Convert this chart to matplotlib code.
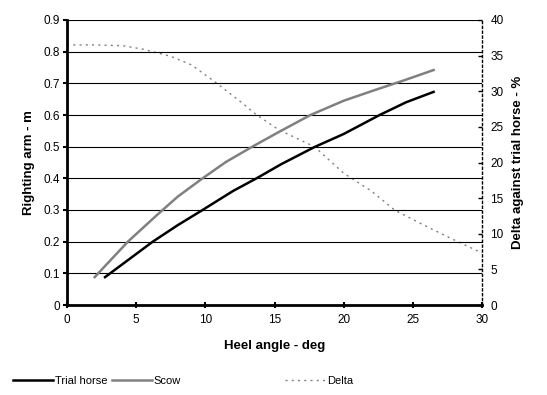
import numpy as np
import matplotlib
matplotlib.use("Agg")
import matplotlib.pyplot as plt

plt.rcParams['font.family'] = ['Liberation Sans', 'DejaVu Sans']

# heel angle (deg) vs righting arm (m)
trial_x = [2.75, 6.2, 8.0, 9.8, 12.0, 13.7, 15.5, 17.9, 20.0, 22.6, 24.5, 26.5]
trial_y = [0.088, 0.2, 0.252, 0.3, 0.36, 0.4, 0.445, 0.499, 0.54, 0.6, 0.64, 0.673]

scow_x = [2.0, 4.4, 6.5, 8.0, 9.8, 11.5, 13.4, 15.3, 17.6, 20.0, 22.0, 24.4, 26.5]
scow_y = [0.088, 0.2, 0.284, 0.342, 0.4, 0.452, 0.5, 0.546, 0.6, 0.645, 0.675, 0.71, 0.742]

# delta against trial horse (%)
delta_x = [0, 2, 4, 5.5, 7.5, 9, 10.7, 12.5, 13.7, 15.3, 17.9, 20, 22, 23.7, 25.5, 27.7, 30]
delta_y = [36.5, 36.5, 36.4, 35.9, 34.9, 33.7, 31.3, 28.6, 26.7, 24.6, 22.2, 18.5, 16.0, 13.3, 11.5, 9.4, 7.3]

fig = plt.figure(figsize=(5.47, 3.95), dpi=100)
ax = fig.add_axes([67/547, 90/395, 415/547, 285/395])
ax2 = ax.twinx()

# gridlines
ax.set_axisbelow(True)
ax.yaxis.grid(True, color='black', linewidth=0.8)

ax2.plot(delta_x, delta_y, color='#808080', linewidth=1.0, linestyle=(0, (1.5, 3)), label='Delta')
ax.set_zorder(ax2.get_zorder() + 1)
ax.patch.set_visible(False)
l1, = ax.plot(trial_x, trial_y, color='black', linewidth=1.8, label='Trial horse')
l2, = ax.plot(scow_x, scow_y, color='#808080', linewidth=1.8, label='Scow')
l3 = ax2.get_lines()[0]

ax.set_xlim(0, 30)
ax.set_ylim(0, 0.9)
ax2.set_ylim(0, 40)
ax.set_xticks(np.arange(0, 31, 5))
ax.set_yticks(np.arange(0, 0.91, 0.1))
ax.set_yticklabels(['0'] + ['%.1f' % v for v in np.arange(0.1, 0.91, 0.1)])
ax2.set_yticks(np.arange(0, 41, 5))

for a in (ax, ax2):
    a.spines['top'].set_visible(False)
ax.spines['right'].set_visible(False)
ax.spines['left'].set_linewidth(2)
ax.spines['bottom'].set_linewidth(2)
ax2.spines['left'].set_visible(False)
ax2.spines['bottom'].set_visible(False)
ax2.spines['right'].set_linestyle((0, (1.5, 2)))
ax2.spines['right'].set_linewidth(1.0)

ax.tick_params(axis='x', direction='inout', length=5, width=1.5, labelsize=8.5, pad=4)
ax.tick_params(axis='y', direction='out', length=3, width=1.5, labelsize=8.5, pad=2)
ax2.tick_params(axis='y', direction='in', length=3, width=1, labelsize=8.5, pad=6)

ax.set_xlabel('Heel angle - deg', fontsize=9.5, fontweight='bold', labelpad=10)
ax.set_ylabel('Righting arm - m', fontsize=9.5, fontweight='bold', labelpad=6)
ax2.set_ylabel('Delta against trial horse - %', fontsize=9.5, fontweight='bold', labelpad=6)

# Excel-style legend along the bottom
for h, xpos in [(l1, 13/547), (l2, 112/547), (l3, 285/547)]:
    fig.legend(handles=[h], loc='center left', bbox_to_anchor=(xpos, 14/395),
               frameon=False, fontsize=8, handlelength=3.6, handletextpad=0.15,
               borderaxespad=0, borderpad=0)

plt.savefig('out.png', dpi=100)
